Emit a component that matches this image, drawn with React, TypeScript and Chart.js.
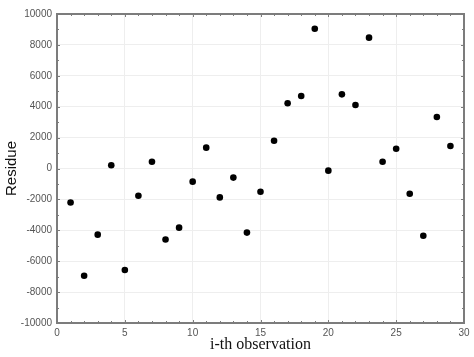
import React, { useEffect, useRef } from "react";
import { Chart, registerables } from "chart.js";

Chart.register(...registerables);

const observations = [1, 2, 3, 4, 5, 6, 7, 8, 9, 10, 11, 12, 13, 14, 15, 16, 17, 18, 19, 20, 21, 22, 23, 24, 25, 26, 27, 28, 29];
const residues = [-2200, -6940, -4280, 210, -6570, -1760, 440, -4600, -3830, -850, 1350, -1870, -590, -4150, -1500, 1800, 4220, 4690, 9050, -140, 4800, 4110, 8470, 440, 1280, -1630, -4350, 3330, 1460];

const xMin = 0;
const xMax = 30;
const xStep = 5;
const xMinorStep = 1;
const yMin = -10000;
const yMax = 10000;
const yStep = 2000;
const yMinorStep = 1000;

const frameColor = "#7c7c7c";

const framePlugin = {
  id: "frameTicks",
  afterDraw(chart: any) {
    const { ctx, chartArea, scales } = chart;
    const { left, right, top, bottom } = chartArea;
    ctx.save();
    ctx.strokeStyle = frameColor;
    ctx.lineWidth = 2;
    ctx.beginPath();
    ctx.moveTo(left, top);
    ctx.lineTo(right, top);
    ctx.lineTo(right, bottom);
    ctx.stroke();
    ctx.lineWidth = 1;
    ctx.beginPath();
    for (let v = xMin; v <= xMax; v += xMinorStep) {
      const px = Math.round(scales.x.getPixelForValue(v)) + 0.5;
      const len = v % xStep === 0 ? 3 : 2;
      ctx.moveTo(px, bottom);
      ctx.lineTo(px, bottom - len);
      ctx.moveTo(px, top);
      ctx.lineTo(px, top + len);
    }
    for (let v = yMin; v <= yMax; v += yMinorStep) {
      const py = Math.round(scales.y.getPixelForValue(v)) + 0.5;
      const len = v % yStep === 0 ? 3 : 2;
      ctx.moveTo(left, py);
      ctx.lineTo(left + len, py);
      ctx.moveTo(right, py);
      ctx.lineTo(right - len, py);
    }
    ctx.stroke();
    ctx.restore();
  },
};

export default function App() {
  const canvasRef = useRef<HTMLCanvasElement | null>(null);

  useEffect(() => {
    document.body.style.margin = "0";
    const canvas = canvasRef.current;
    if (!canvas) return;
    const chart = new Chart(canvas, {
      type: "scatter",
      data: {
        datasets: [
          {
            data: observations.map((o, i) => ({ x: o, y: residues[i] })),
            backgroundColor: "#000000",
            borderColor: "#000000",
            pointRadius: 3.3,
            pointBorderWidth: 0,
          },
        ],
      },
      options: {
        responsive: false,
        animation: false,
        layout: { padding: { left: 0, right: 10, top: 14, bottom: 0 } },
        plugins: {
          legend: { display: false },
          tooltip: { enabled: false },
        },
        scales: {
          x: {
            type: "linear",
            min: xMin,
            max: xMax,
            afterFit(scale: any) {
              scale.height = 34;
            },
            ticks: {
              stepSize: xStep,
              padding: 4,
              color: "#555555",
              font: { family: "Liberation Sans", size: 10 },
              callback: (v: any) => String(v),
            },
            grid: { color: "#eeeeee", drawTicks: false },
            border: { color: frameColor, width: 2 },
            title: {
              display: true,
              text: "i-th observation",
              color: "#111111",
              font: { family: "Liberation Serif", size: 16 },
              padding: { top: 0, bottom: 3 },
            },
          },
          y: {
            type: "linear",
            min: yMin,
            max: yMax,
            afterFit(scale: any) {
              scale.width = 57;
            },
            ticks: {
              stepSize: yStep,
              padding: 5,
              color: "#555555",
              font: { family: "Liberation Sans", size: 10 },
              callback: (v: any) => String(v),
            },
            grid: { color: "#eeeeee", drawTicks: false },
            border: { color: frameColor, width: 2 },
            title: {
              display: true,
              text: "Residue",
              color: "#111111",
              font: { family: "Liberation Sans", size: 15 },
              padding: { top: 3, bottom: 0 },
            },
          },
        },
      },
      plugins: [framePlugin],
    });
    return () => chart.destroy();
  }, []);

  return (
    <div style={{ width: 474, height: 357 }}>
      <canvas ref={canvasRef} width={474} height={357} />
    </div>
  );
}
